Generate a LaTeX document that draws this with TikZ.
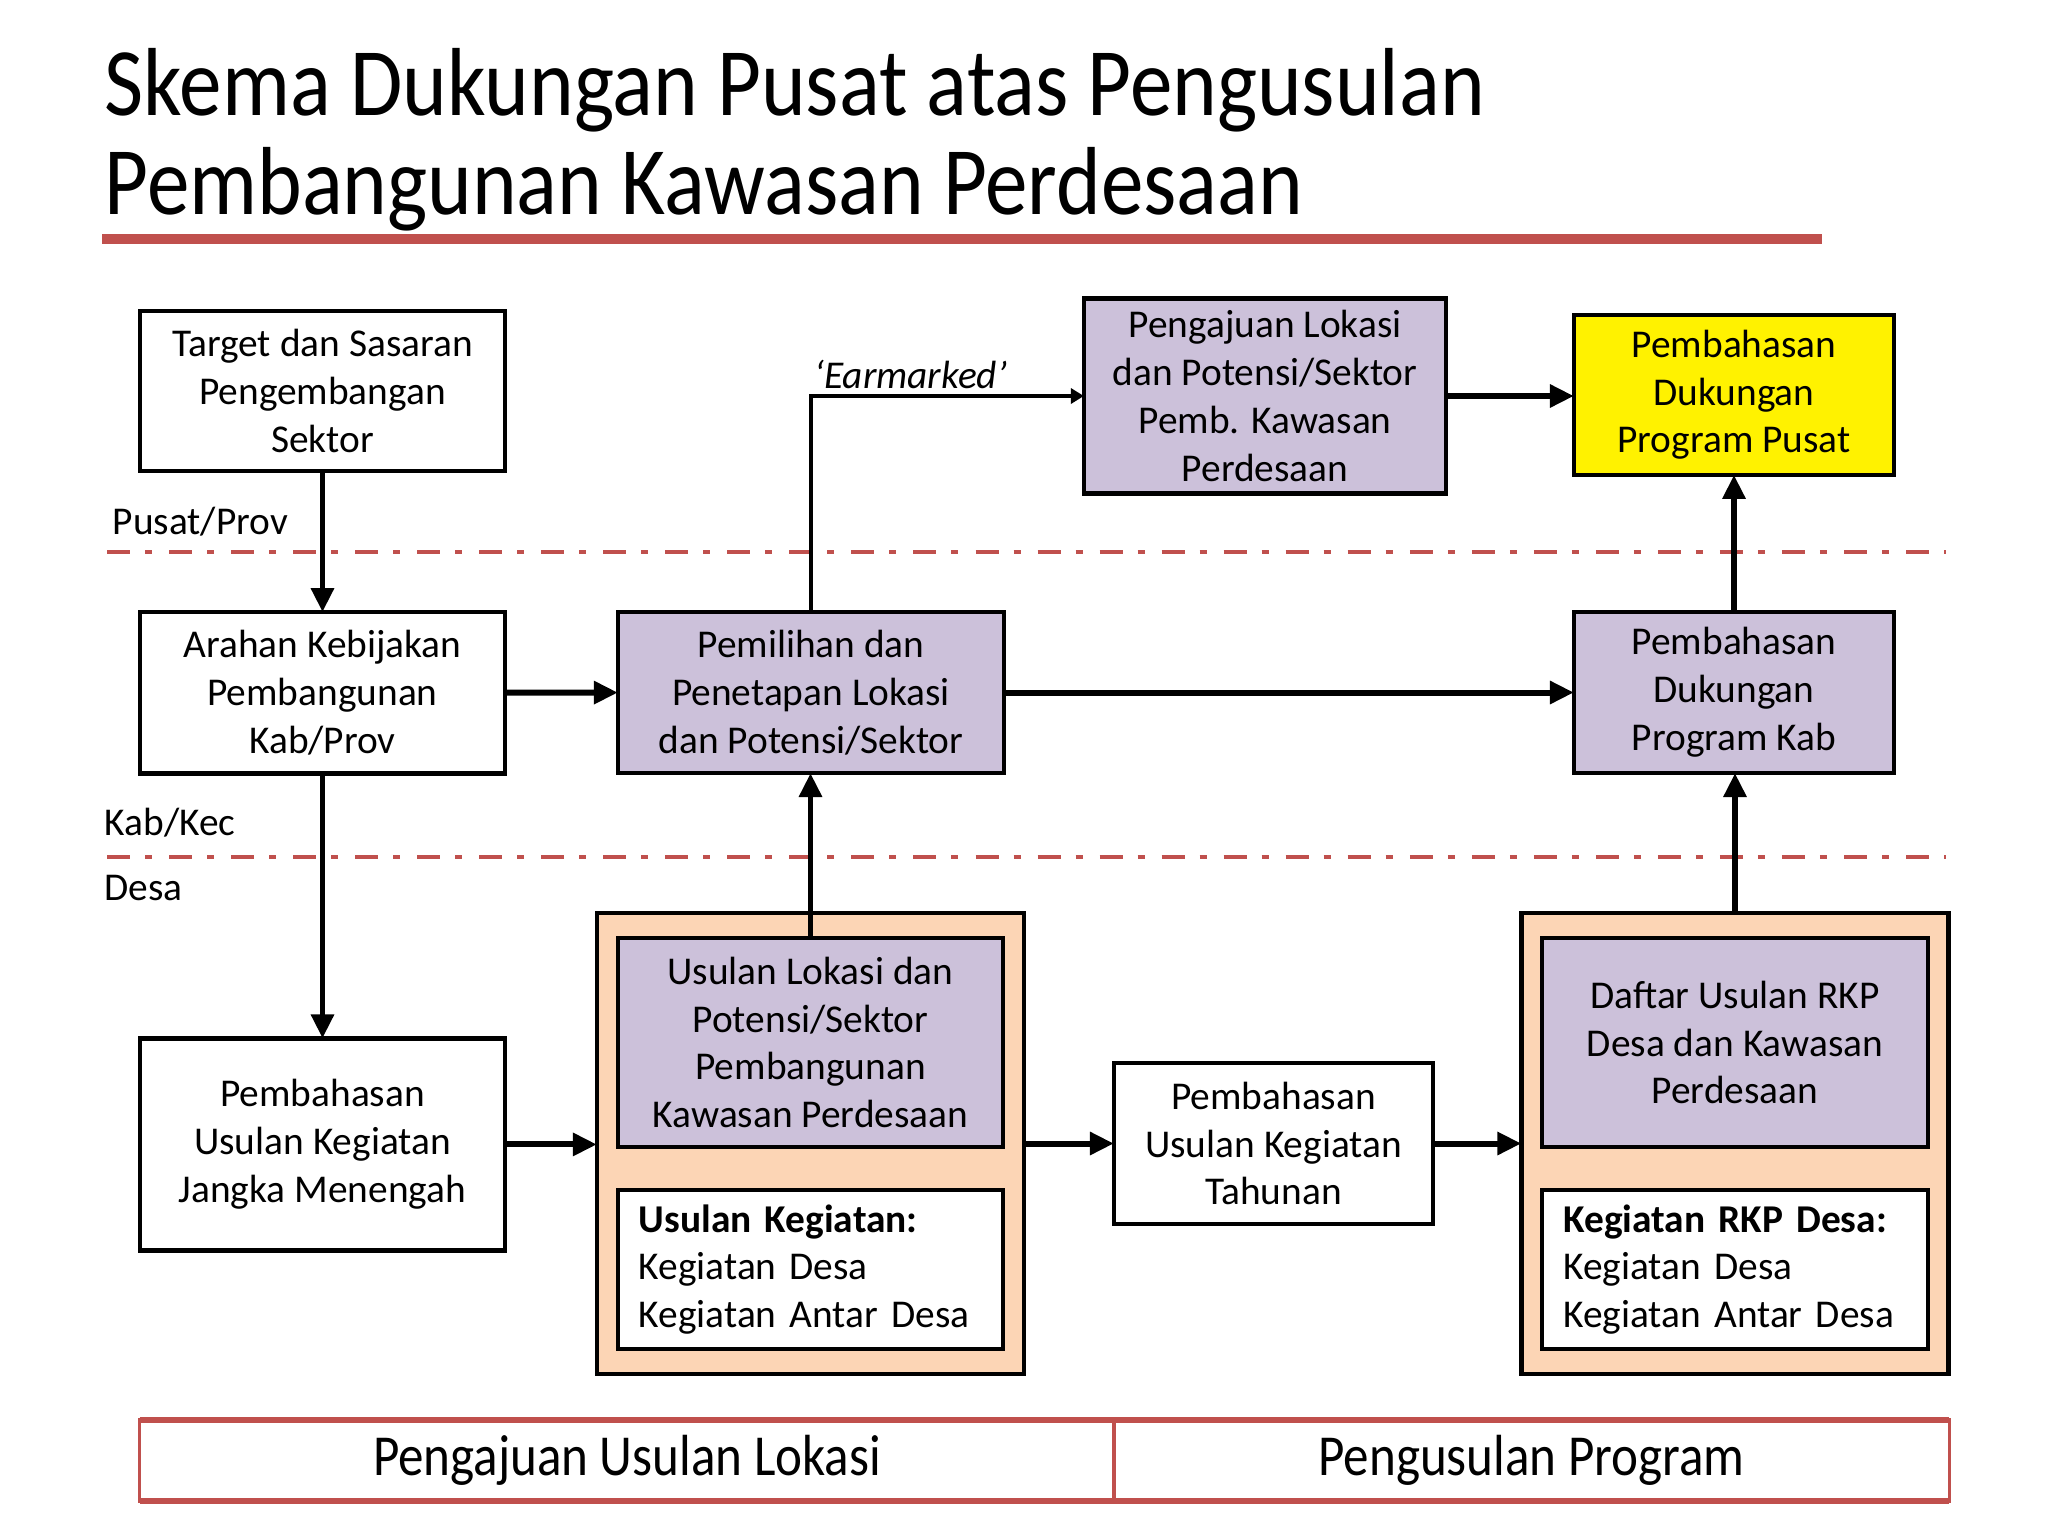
\documentclass[tikz,border=0pt]{standalone}
\usepackage{fontspec}
\setmainfont{Carlito}
\newfontfamily\titlefont[FakeStretch=0.88]{Carlito}
\usepackage{xcolor}
\usetikzlibrary{arrows.meta, positioning}
\definecolor{lavender}{RGB}{204,193,218}
\definecolor{peach}{RGB}{252,213,181}
\definecolor{brickred}{RGB}{192,80,77}
\newcommand{\boxfont}{\fontsize{11.2}{13.6}\selectfont}

\begin{document}
\begin{tikzpicture}[
    x=0.01cm, y=-0.01cm,
    box/.style={rectangle, draw=black, line width=1.3pt, fill=white, outer sep=0pt,
                align=center, font=\boxfont, inner sep=0pt},
    purplebox/.style={box, fill=lavender},
    yellowbox/.style={box, fill=yellow},
    peachbox/.style={box, fill=peach, minimum width=4.27cm, minimum height=4.61cm},
    listbox/.style={box, align=left, text width=3.43cm, minimum width=3.85cm, minimum height=1.59cm},
    cell/.style={rectangle, draw=brickred, line width=1pt, minimum height=0.81cm, outer sep=0pt,
                 font=\titlefont\fontsize{16.5}{19}\selectfont},
    level/.style={anchor=west, font=\boxfont, inner sep=0pt},
    levelline/.style={draw=brickred, line width=1.4pt, dash pattern=on 0.23cm off 0.15cm on 0.07cm off 0.17cm},
    arr/.style={-{Triangle[length=0.24cm, width=0.22cm]}, line width=1.7pt},
    thinarr/.style={-{Triangle[length=0.13cm, width=0.15cm]}, line width=0.95pt},
]
\useasboundingbox (0,0) rectangle (2048,1536);

\node[anchor=base west, inner sep=0pt, font=\titlefont\fontsize{27.5}{30}\selectfont] (title1) at (104,115) {Skema Dukungan Pusat atas Pengusulan};
\node[anchor=base west, inner sep=0pt, font=\titlefont\fontsize{27.5}{30}\selectfont] (title2) at (104,214) {Pembangunan Kawasan Perdesaan};
\draw[brickred, line width=2.6pt] (102,239) -- (1822,239);

\draw[levelline] (107,552) -- (1946,552);
\draw[levelline] (107,857) -- (1946,857);
\node[level] (pusatprov) at (112,522) {Pusat/Prov};
\node[level] (kabkec) at (104,823) {Kab/Kec};
\node[level] (desa) at (104,888) {Desa};

\node[box, minimum width=3.65cm, minimum height=1.6cm] (target) at (322.5,391) {Target dan Sasaran\\Pengembangan\\Sektor};
\node[box, below=1.41cm of target, minimum width=3.65cm, minimum height=1.61cm] (arahan) {Arahan Kebijakan\\Pembangunan\\Kab/Prov};
\node[box, below=2.65cm of arahan, minimum width=3.65cm, minimum height=2.12cm] (jangka) {Pembahasan\\Usulan Kegiatan\\Jangka Menengah};

\node[purplebox, minimum width=3.86cm, minimum height=1.61cm] (pemilihan) at (811,692.5) {Pemilihan dan\\Penetapan Lokasi\\dan Potensi/Sektor};
\node[purplebox, minimum width=3.2cm, minimum height=1.61cm] (kab) at (1734,692.5) {Pembahasan\\Dukungan\\Program Kab};
\node[yellowbox, above=1.37cm of kab, minimum width=3.2cm, minimum height=1.6cm] (pusat) {Pembahasan\\Dukungan\\Program Pusat};
\node[purplebox, minimum width=3.62cm, minimum height=1.95cm] (pengajuan) at (1265,396) {Pengajuan Lokasi\\dan Potensi/Sektor\\Pemb. Kawasan\\Perdesaan};

\node[peachbox] (lpeach) at (810.5,1143.5) {};
\node[purplebox, minimum width=3.85cm, minimum height=2.09cm] (usulanlok) at (810.5,1042.5) {Usulan Lokasi dan\\Potensi/Sektor\\Pembangunan\\Kawasan Perdesaan};
\node[listbox] (usulankeg) at (810.5,1269.5) {\textbf{Usulan Kegiatan:}\\Kegiatan Desa\\Kegiatan Antar Desa};

\node[box, minimum width=3.19cm, minimum height=1.61cm] (tahunan) at (1273.5,1143.5) {Pembahasan\\Usulan Kegiatan\\Tahunan};

\node[peachbox] (rpeach) at (1735,1143.5) {};
\node[purplebox, minimum width=3.86cm, minimum height=2.09cm] (daftar) at (1735,1042.5) {Daftar Usulan RKP\\Desa dan Kawasan\\Perdesaan};
\node[listbox, minimum width=3.86cm] (rkpkeg) at (1735,1269.5) {\textbf{Kegiatan RKP Desa:}\\Kegiatan Desa\\Kegiatan Antar Desa};

\node[cell, minimum width=9.74cm] (lokasi) at (627,1460.5) {Pengajuan Usulan Lokasi};
\node[cell, minimum width=8.35cm] (program) at (1531.5,1460.5) {Pengusulan Program};
\draw[brickred, line width=1.8pt] (lokasi.north west) -- (program.north east);
\draw[brickred, line width=1.8pt] (lokasi.south west) -- (program.south east);

\draw[arr] (target) -- (arahan);
\draw[arr] (arahan) -- (jangka);
\draw[arr] (arahan) -- (pemilihan);
\draw[arr] (pemilihan) -- (kab);
\draw[arr] (kab) -- (pusat);
\draw[arr] (pengajuan.east) -- (pengajuan.east -| pusat.west);
\draw[thinarr] (pemilihan.north) |- (pengajuan.west) node[pos=0.5, anchor=south west, inner sep=0pt, xshift=0.5pt, yshift=1.5pt, font=\boxfont] {\textit{`Earmarked'}};
\draw[arr] (usulanlok.north) -- (usulanlok.north |- pemilihan.south);
\draw[arr] (rpeach.north) -- (rpeach.north |- kab.south);
\draw[arr] (jangka.east) -- (jangka.east -| lpeach.west);
\draw[arr] (lpeach) -- (tahunan);
\draw[arr] (tahunan) -- (rpeach);

\end{tikzpicture}
\end{document}
